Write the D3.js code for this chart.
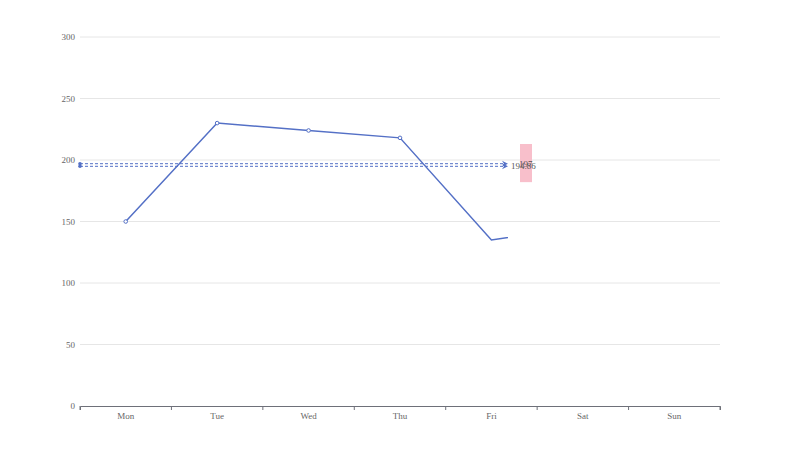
<!DOCTYPE html><html><head><script src="https://cdn.jsdelivr.net/npm/d3@7"></script>
<style>body{margin:0;background:#fff}text{font-family:"Liberation Serif",serif}</style></head><body><svg width="800" height="450"></svg><script>
const categories=["Mon","Tue","Wed","Thu","Fri","Sat","Sun"];
const values=[150,230,224,218,135,146];
const yTicks=[0,50,100,150,200,250,300];
const markValues=[197,194.86];
const markLabels=["197","194.86"];
const svg=d3.select("svg");
const x=d3.scaleBand().domain(categories).range([80,720]);
const y=d3.scaleLinear().domain([0,300]).range([406,37]);
const cx=d=>x(d)+x.bandwidth()/2;
const g=svg.append("g");
yTicks.forEach(t=>{
 if(t>0)g.append("line").attr("x1",80).attr("x2",720).attr("y1",y(t)).attr("y2",y(t)).attr("stroke","#e6e6e6");
 g.append("text").attr("x",75).attr("y",y(t)+3).attr("text-anchor","end").attr("font-size",9).attr("fill","#666").text(t);
});
svg.append("g").attr("transform","translate(0,406)").call(d3.axisBottom(x).tickSize(4).tickSizeOuter(4))
 .call(a=>{a.select(".domain").attr("stroke","#6e7079");a.selectAll("line").attr("stroke","#6e7079");
 a.selectAll(".tick").each(function(d,i){});a.selectAll("text").attr("fill","#666").attr("font-size",9).attr("font-family","Liberation Serif");});
// ticks at band boundaries
svg.selectAll(".tick line").remove();
categories.forEach(c=>svg.append("line").attr("x1",x(c)).attr("x2",x(c)).attr("y1",406).attr("y2",410).attr("stroke","#6e7079"));
svg.append("line").attr("x1",720).attr("x2",720).attr("y1",406).attr("y2",410).attr("stroke","#6e7079");
svg.append("clipPath").attr("id","c").append("rect").attr("x",0).attr("y",0).attr("width",508).attr("height",450);
const line=d3.line().x((d,i)=>cx(categories[i])).y(d=>y(d));
svg.append("path").attr("d",line(values)).attr("fill","none").attr("stroke","#5470c6").attr("stroke-width",1.5).attr("clip-path","url(#c)");
values.slice(0,4).forEach((v,i)=>svg.append("circle").attr("cx",cx(categories[i])).attr("cy",y(v)).attr("r",1.8).attr("fill","#fff").attr("stroke","#5470c6"));
svg.append("rect").attr("x",520).attr("y",y(213)).attr("width",12).attr("height",y(182)-y(213)).attr("fill","#f8bfcb");
markValues.forEach((m,i)=>{
 const yy=y(m);
 svg.append("circle").attr("cx",80).attr("cy",yy).attr("r",1.8).attr("fill","#5470c6");
 svg.append("line").attr("x1",80).attr("x2",504).attr("y1",yy).attr("y2",yy).attr("stroke","#5470c6").attr("stroke-dasharray","3,2");
 svg.append("path").attr("d",`M502,${yy-3}L508,${yy}L502,${yy+3}L504,${yy}Z`).attr("fill","#5470c6");
 svg.append("text").attr("x",i?511:519).attr("y",yy+3).attr("font-size",9).attr("fill","#555").text(markLabels[i]);
});
</script></body></html>
